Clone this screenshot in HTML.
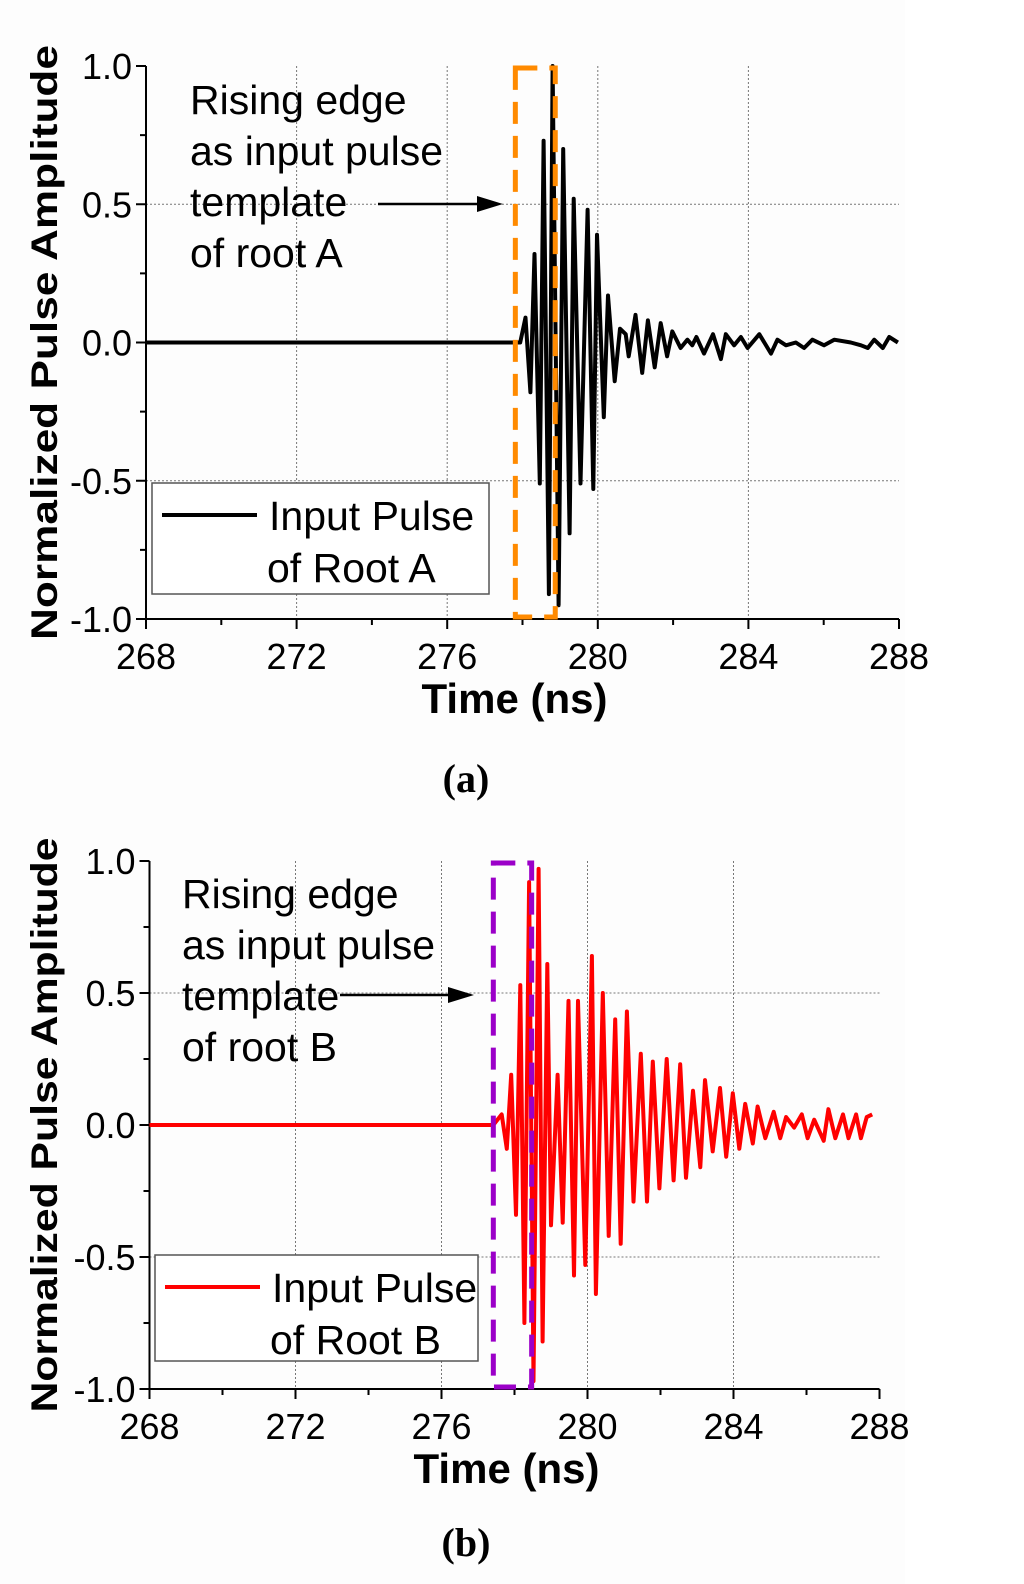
<!DOCTYPE html>
<html><head><meta charset="utf-8"><style>
body{margin:0;background:#fff;width:1024px;height:1584px;overflow:hidden}
svg{display:block}
text{font-family:"Liberation Sans",Arial,sans-serif;fill:#000}
</style></head><body>
<svg id="fig" width="1024" height="1584" viewBox="0 0 1024 1584" xmlns="http://www.w3.org/2000/svg">
<rect x="0" y="0" width="905" height="1584" fill="#fdfdfd"/>
<g id="pa"></g>
<g id="pb"></g>
<text x="466" y="792" text-anchor="middle" style="font-family:'Liberation Serif',serif;font-weight:bold;font-size:40px">(a)</text>
<text x="466" y="1556" text-anchor="middle" style="font-family:'Liberation Serif',serif;font-weight:bold;font-size:40px">(b)</text>
</svg>
<script>
const xTicks = [268, 272, 276, 280, 284, 288];
const yTicks = [1.0, 0.5, 0.0, -0.5, -1.0];
const yTickLabels = ["1.0", "0.5", "0.0", "-0.5", "-1.0"];
const timeA = [268, 277.94, 278.08, 278.21, 278.32, 278.46, 278.56, 278.70, 278.80, 278.96, 279.08, 279.25, 279.36, 279.54, 279.73, 279.88, 279.98, 280.16, 280.27, 280.45, 280.59, 280.74, 280.82, 281.0, 281.18, 281.33, 281.51, 281.67, 281.84, 281.98, 282.2, 282.38, 282.51, 282.62, 282.82, 283.06, 283.27, 283.4, 283.62, 283.8, 283.98, 284.29, 284.6, 284.77, 285.0, 285.26, 285.48, 285.7, 286.01, 286.28, 286.72, 286.99, 287.17, 287.34, 287.57, 287.74, 287.97];
const ampA = [0, 0, 0.09, -0.18, 0.32, -0.51, 0.73, -0.91, 1.0, -0.95, 0.70, -0.69, 0.52, -0.51, 0.48, -0.53, 0.39, -0.27, 0.17, -0.14, 0.05, 0.03, -0.05, 0.10, -0.11, 0.08, -0.09, 0.07, -0.05, 0.04, -0.02, 0.01, -0.01, 0.02, -0.04, 0.03, -0.06, 0.03, -0.01, 0.02, -0.02, 0.03, -0.04, 0.01, -0.01, 0.0, -0.02, 0.01, -0.01, 0.01, 0.0, -0.01, -0.02, 0.01, -0.02, 0.02, 0.0];
const timeB = [268, 277.42, 277.65, 277.79, 277.91, 278.04, 278.16, 278.27, 278.40, 278.52, 278.66, 278.77, 278.90, 279.0, 279.18, 279.32, 279.48, 279.63, 279.74, 279.94, 280.12, 280.23, 280.42, 280.58, 280.76, 280.91, 281.08, 281.26, 281.46, 281.63, 281.79, 281.97, 282.17, 282.36, 282.54, 282.7, 282.89, 283.09, 283.22, 283.43, 283.63, 283.8, 283.98, 284.16, 284.32, 284.53, 284.66, 284.87, 285.1, 285.28, 285.44, 285.66, 285.87, 286.03, 286.21, 286.47, 286.6, 286.79, 287.0, 287.15, 287.36, 287.49, 287.65, 287.8];
const ampB = [0, 0, 0.04, -0.09, 0.19, -0.34, 0.53, -0.75, 0.92, -0.97, 0.97, -0.82, 0.61, -0.38, 0.19, -0.37, 0.47, -0.57, 0.47, -0.53, 0.64, -0.64, 0.50, -0.42, 0.40, -0.45, 0.43, -0.29, 0.27, -0.29, 0.24, -0.24, 0.25, -0.21, 0.23, -0.20, 0.13, -0.16, 0.17, -0.10, 0.14, -0.12, 0.12, -0.09, 0.08, -0.07, 0.07, -0.05, 0.05, -0.05, 0.03, -0.01, 0.04, -0.05, 0.02, -0.06, 0.06, -0.05, 0.04, -0.05, 0.04, -0.05, 0.03, 0.04];
const templateA = [277.81, 278.87];
const templateB = [277.42, 278.47];

const NS = "http://www.w3.org/2000/svg";
function mk(parent, tag, attrs, txt) {
  const e = document.createElementNS(NS, tag);
  for (const k in attrs) e.setAttribute(k, attrs[k]);
  if (txt !== undefined) e.textContent = txt;
  parent.appendChild(e);
  return e;
}

function panel(g, cfg) {
  const sx = t => cfg.x0 + (t - 268) / 20 * (cfg.x1 - cfg.x0);
  const sy = v => cfg.yMid - v * cfg.yUnit;
  const top = sy(1), bot = sy(-1);
  xTicks.slice(1, -1).forEach(t => {
    const l = mk(g, "line", {x1: sx(t), x2: sx(t), y1: top, y2: bot, stroke: "#777", "stroke-width": 1, "stroke-dasharray": "2,2"});
    
    
  });
  [0.5, -0.5].forEach(v => {
    const l = mk(g, "line", {x1: cfg.x0, x2: cfg.x1, y1: sy(v), y2: sy(v), stroke: "#777", "stroke-width": 1, "stroke-dasharray": "2,2"});
    
    
  });
  const ax = mk(g, "path", {d: `M${cfg.x0},${top} V${bot} H${cfg.x1}`, fill: "none", stroke: "#000", "stroke-width": 2});
  
  
  xTicks.forEach((t, i) => {
    mk(g, "line", {x1: sx(t), x2: sx(t), y1: bot, y2: bot + 10, stroke: "#000", "stroke-width": 2});
    if (i < xTicks.length - 1) mk(g, "line", {x1: sx(t + 2), x2: sx(t + 2), y1: bot, y2: bot + 6, stroke: "#000", "stroke-width": 2});
    const lb = mk(g, "text", {x: sx(t), y: bot + 50, "text-anchor": "middle", "font-size": 36}, String(t));
    
    
  });
  yTicks.forEach((v, i) => {
    mk(g, "line", {x1: cfg.x0 - 10, x2: cfg.x0, y1: sy(v), y2: sy(v), stroke: "#000", "stroke-width": 2});
    if (i < yTicks.length - 1) mk(g, "line", {x1: cfg.x0 - 6, x2: cfg.x0, y1: sy(v - 0.25), y2: sy(v - 0.25), stroke: "#000", "stroke-width": 2});
    const lb = mk(g, "text", {x: cfg.x0 - 14, y: sy(v) + 13, "text-anchor": "end", "font-size": 36}, yTickLabels[i]);
    
    
  });
  const xt = mk(g, "text", {x: (cfg.x0 + cfg.x1) / 2 - 8, y: bot + 94, "text-anchor": "middle", "font-size": 42, "font-weight": "bold"}, "Time (ns)");
  
  
  const cy = (top + bot) / 2;
  const yt = mk(g, "text", {x: 0, y: 0, transform: `translate(57,${cy}) rotate(-90)`, "text-anchor": "middle", "font-size": 37, "font-weight": "bold", textLength: cfg.titleLen, lengthAdjust: "spacingAndGlyphs"}, "Normalized Pulse Amplitude");
  
  
  const d = cfg.time.map((t, i) => (i ? "L" : "M") + sx(t).toFixed(1) + "," + sy(cfg.amp[i]).toFixed(1)).join(" ");
  const s = mk(g, "path", {d: d, fill: "none", stroke: cfg.color, "stroke-width": 4, "stroke-linejoin": "round"});
  
  
  const bx = mk(g, "rect", {x: sx(cfg.tpl[0]), y: top + 2, width: sx(cfg.tpl[1]) - sx(cfg.tpl[0]), height: bot - top - 4, fill: "none", stroke: cfg.boxColor, "stroke-width": 5, "stroke-dasharray": "22,12"});
  
  
  cfg.note.forEach((ln, i) => {
    const t = mk(g, "text", {x: cfg.noteX, y: cfg.noteY + i * 51, "font-size": 41}, ln);
    
    
  });
  const ar = mk(g, "line", {x1: cfg.arrow[0], x2: cfg.arrow[1] - 22, y1: cfg.arrow[2], y2: cfg.arrow[2], stroke: "#000", "stroke-width": 2.5});
  
  
  const ah = mk(g, "path", {d: `M${cfg.arrow[1]},${cfg.arrow[2]} l-26,-8 v16 z`, fill: "#000"});
  
  
  const L = cfg.legend;
  const lr = mk(g, "rect", {x: L[0], y: L[1], width: L[2], height: L[3], fill: "#fff", stroke: "#555", "stroke-width": 1.5});
  
  
  const ll = mk(g, "line", {x1: L[0] + 10, x2: L[0] + 105, y1: L[1] + 32, y2: L[1] + 32, stroke: cfg.color, "stroke-width": 4});
  
  
  const l1 = mk(g, "text", {x: L[0] + 117, y: L[1] + 47, "font-size": 41}, "Input Pulse");
  
  
  const l2 = mk(g, "text", {x: L[0] + 115, y: L[1] + 99, "font-size": 41}, cfg.legendLabel);
  
  
}

panel(document.getElementById("pa"), {x0: 146, x1: 899, yMid: 342.5, yUnit: 276.5, time: timeA, amp: ampA, color: "#000", boxColor: "#ff8a00", tpl: templateA,
  seriesName: "input-pulse-root-a", titleLen: 595, note: ["Rising edge", "as input pulse", "template", "of root A"], noteX: 190, noteY: 114,
  arrow: [378, 503, 204], legend: [152, 483, 337, 111], legendLabel: "of Root A"});
panel(document.getElementById("pb"), {x0: 149.5, x1: 879.5, yMid: 1125, yUnit: 264, time: timeB, amp: ampB, color: "#ff0000", boxColor: "#9b00c8", tpl: templateB,
  seriesName: "input-pulse-root-b", titleLen: 575, note: ["Rising edge", "as input pulse", "template", "of root B"], noteX: 182, noteY: 908,
  arrow: [340, 474, 995], legend: [155, 1255, 323, 106], legendLabel: "of Root B"});
</script>
</body></html>
